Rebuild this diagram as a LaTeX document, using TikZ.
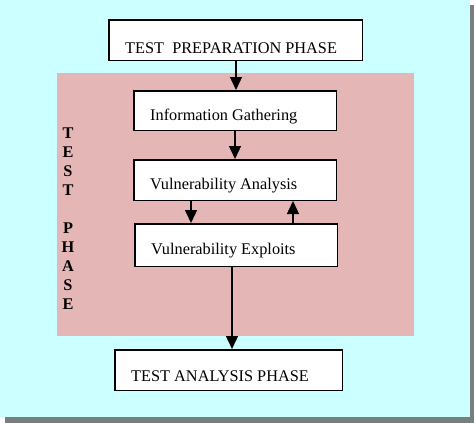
\documentclass[tikz,border=0pt]{standalone}
\usepackage{fontspec}
\setmainfont{Liberation Serif}
\usetikzlibrary{arrows.meta}
\definecolor{bgcyan}{RGB}{204,255,255}
\definecolor{phasepink}{RGB}{228,182,182}
\definecolor{shadowgray}{RGB}{118,126,126}
\tikzset{
  boxnode/.style={draw=black, line width=1.5pt, fill=white, rectangle, inner sep=0pt},
  labeltext/.style={anchor=base west, inner sep=0pt, font=\fontsize{16.3}{19}\selectfont},
  flow/.style={line width=1.4pt, -{Triangle[length=13pt,width=12pt]}}
}
\begin{document}
\begin{tikzpicture}[x=1pt,y=-1pt]
\useasboundingbox (0,0) rectangle (474,423);
% background and shadow
\fill[shadowgray] (5,5) rectangle (474,423);
\fill[bgcyan] (0,0) rectangle (470,417);
\fill[phasepink] (57,73) rectangle (414,336);
% boxes
\node[boxnode, minimum width=253.5pt, minimum height=40.5pt] (top) at (235.5,40) {};
\node[boxnode, minimum width=202.5pt, minimum height=39.5pt] (info) at (235,110.5) {};
\node[boxnode, minimum width=202.5pt, minimum height=40.5pt] (va) at (235,180) {};
\node[boxnode, minimum width=202.5pt, minimum height=42.5pt] (ve) at (236,245) {};
\node[boxnode, minimum width=227.5pt, minimum height=40.5pt] (ta) at (228.5,370) {};
% texts
\node[labeltext] (toptxt) at (125,53) {TEST\ \ PREPARATION PHASE};
\node[labeltext] (infotxt) at (150,120) {Information Gathering};
\node[labeltext] (vatxt) at (150,189) {Vulnerability Analysis};
\node[labeltext] (vetxt) at (151,254) {Vulnerability Exploits};
\node[labeltext] (tatxt) at (131,381.7) {TEST ANALYSIS PHASE};
\node[anchor=north, inner sep=0pt, align=center, font=\fontsize{16.3}{19}\selectfont\bfseries] (phase) at (68,127.2) {T\\E\\S\\T\\\mbox{}\\P\\H\\A\\S\\E};
% connectors
\draw[flow] ([xshift=0.5pt]top.south) -- ([xshift=0.5pt]top.south |- info.north);
\draw[flow] (info.south) -- (info.south |- va.north);
\draw[flow] ([xshift=-44pt]va.south) -- ([xshift=-44pt]va.south |- ve.north);
\draw[flow] ([xshift=57pt]ve.north) -- ([xshift=57pt]ve.north |- va.south);
\draw[flow] ([xshift=-4pt]ve.south) -- ([xshift=-4pt]ve.south |- ta.north);
\end{tikzpicture}
\end{document}
